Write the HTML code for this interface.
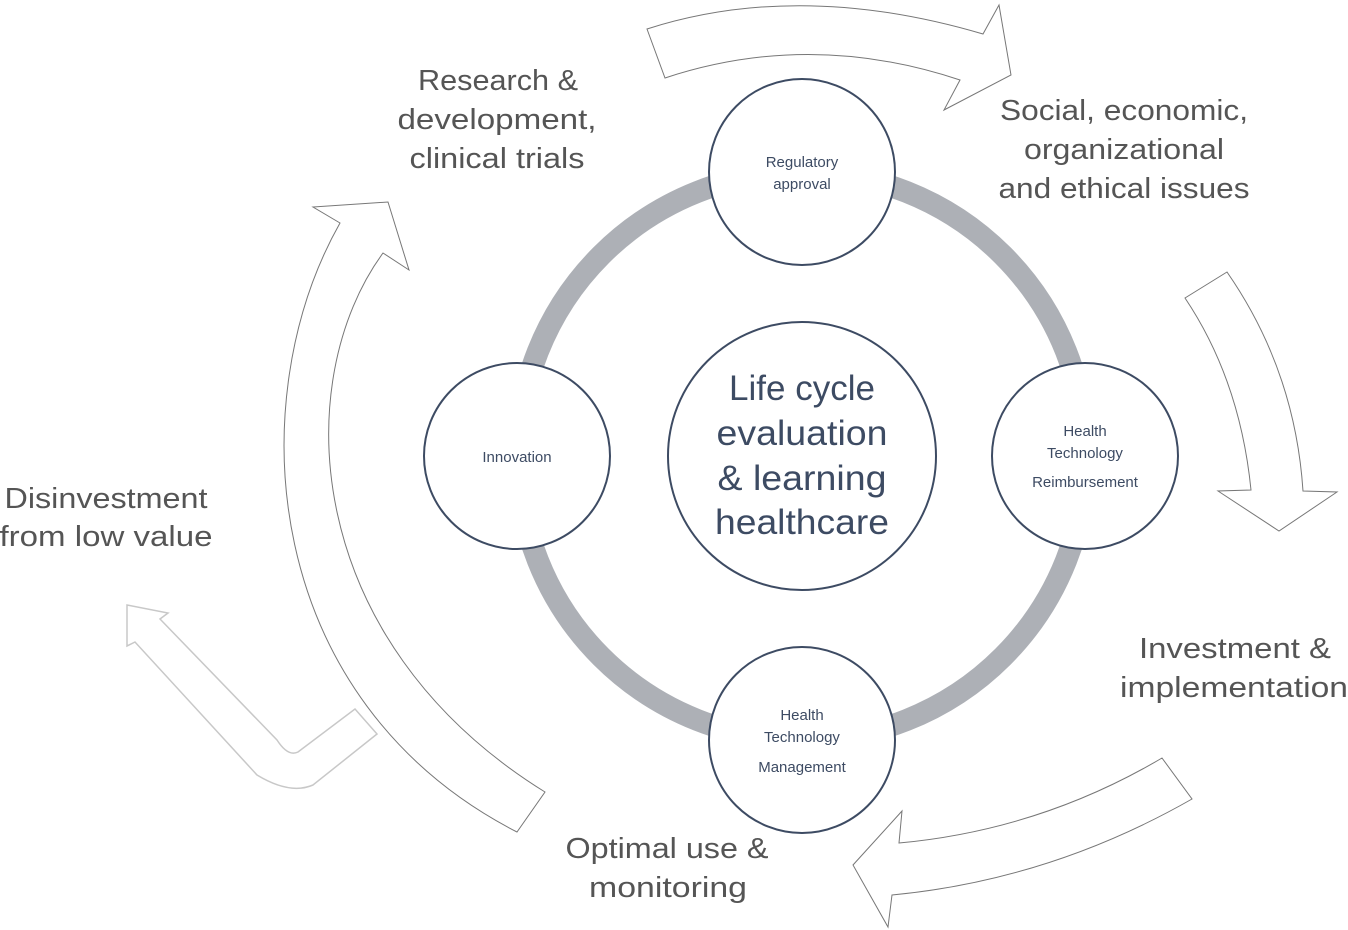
<!DOCTYPE html>
<html><head><meta charset="utf-8"><style>
html,body{margin:0;padding:0;background:#fff;}
svg{display:block;}
.big{font-family:"Liberation Sans",sans-serif;font-size:29px;fill:#555;}
.ctr{font-family:"Liberation Sans",sans-serif;font-size:35px;fill:#3d4b63;}
.sm{font-family:"Liberation Sans",sans-serif;font-size:15px;fill:#3d4b63;}
</style></head><body>
<svg width="1348" height="930" viewBox="0 0 1348 930" xmlns="http://www.w3.org/2000/svg">
<!-- ring -->
<circle cx="802" cy="456" r="284" fill="none" stroke="#adb0b6" stroke-width="22"/>
<!-- arrows -->
<g fill="#fff" stroke="#777" stroke-width="1">
<path d="M647,29 Q800,-20 983,34 L999,5 L1011,75 L944,110 L960,80 Q810,30 665,78 Z"/>
<path d="M1185,298 L1227,272 Q1295,370 1303,491 L1337,492 L1279,531 L1218,491 L1251,490 Q1240,380 1185,298 Z"/>
<path d="M1162,758 L1192,799 Q1050,880 892,895 L888,927 L853,865 L902,811 L899,843 Q1040,830 1162,758 Z"/>
<path d="M517,832 C260,700 240,400 340,223 L313,207 L388,202 L409,270 L383,253 C290,380 300,640 545,792 Z"/>
</g>
<path d="M127,605 L168,613 L160,619 L277,740 Q288,757 298,752 L355,709 L377,734 L313,785 Q290,795 257,775 L135,642 L127,646 Z" fill="#fff" stroke="#c8c8c8" stroke-width="1.5"/>
<!-- circles -->
<g fill="#fff" stroke="#3d4b63" stroke-width="2">
<circle cx="802" cy="456" r="134"/>
<circle cx="802" cy="172" r="93"/>
<circle cx="517" cy="456" r="93"/>
<circle cx="1085" cy="456" r="93"/>
<circle cx="802" cy="740" r="93"/>
</g>
<g text-anchor="middle">
<text class="ctr" x="802" y="400" textLength="146" lengthAdjust="spacingAndGlyphs">Life cycle</text>
<text class="ctr" x="802" y="445" textLength="171" lengthAdjust="spacingAndGlyphs">evaluation</text>
<text class="ctr" x="802" y="490" textLength="169" lengthAdjust="spacingAndGlyphs">&amp; learning</text>
<text class="ctr" x="802" y="534" textLength="174" lengthAdjust="spacingAndGlyphs">healthcare</text>
<text class="sm" x="802" y="167">Regulatory</text>
<text class="sm" x="802" y="189">approval</text>
<text class="sm" x="517" y="462">Innovation</text>
<text class="sm" x="1085" y="436">Health</text>
<text class="sm" x="1085" y="458">Technology</text>
<text class="sm" x="1085" y="487">Reimbursement</text>
<text class="sm" x="802" y="720">Health</text>
<text class="sm" x="802" y="742">Technology</text>
<text class="sm" x="802" y="772">Management</text>
<text class="big" x="498" y="90" textLength="160" lengthAdjust="spacingAndGlyphs">Research &amp;</text>
<text class="big" x="497" y="129" textLength="199" lengthAdjust="spacingAndGlyphs">development,</text>
<text class="big" x="497" y="168" textLength="175" lengthAdjust="spacingAndGlyphs">clinical trials</text>
<text class="big" x="1124" y="120" textLength="248" lengthAdjust="spacingAndGlyphs">Social, economic,</text>
<text class="big" x="1124" y="159" textLength="200" lengthAdjust="spacingAndGlyphs">organizational</text>
<text class="big" x="1124" y="198" textLength="251" lengthAdjust="spacingAndGlyphs">and ethical issues</text>
<text class="big" x="106" y="508" textLength="203" lengthAdjust="spacingAndGlyphs">Disinvestment</text>
<text class="big" x="106" y="546" textLength="213" lengthAdjust="spacingAndGlyphs">from low value</text>
<text class="big" x="1235" y="658" textLength="192" lengthAdjust="spacingAndGlyphs">Investment &amp;</text>
<text class="big" x="1234" y="697" textLength="228" lengthAdjust="spacingAndGlyphs">implementation</text>
<text class="big" x="667" y="858" textLength="203" lengthAdjust="spacingAndGlyphs">Optimal use &amp;</text>
<text class="big" x="668" y="897" textLength="158" lengthAdjust="spacingAndGlyphs">monitoring</text>
</g>
</svg>
</body></html>
